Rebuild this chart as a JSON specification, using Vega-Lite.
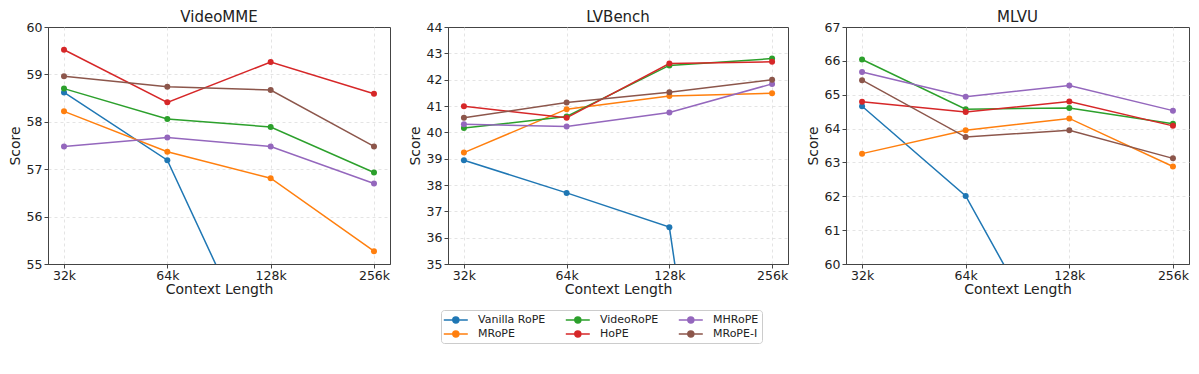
{
  "$schema": "https://vega.github.io/schema/vega-lite/v6.json",
  "background": "white",
  "padding": {"left": 7, "top": 9, "right": 5, "bottom": 5},
  "config": {
    "font": "DejaVu Sans",
    "view": {"stroke": "#444444", "strokeWidth": 1},
    "axis": {
      "labelFont": "DejaVu Sans", "titleFont": "DejaVu Sans",
      "labelFontSize": 12.5, "titleFontSize": 14, "titleFontWeight": "normal",
      "labelColor": "#222222", "titleColor": "#222222",
      "tickColor": "#444444", "tickSize": 4, "domain": true, "domainColor": "#444444",
      "gridColor": "#dddddd", "gridDash": [3, 3], "gridWidth": 0.8
    },
    "legend": {
      "title": null, "orient": "none", "legendX": 393, "legendY": 283,
      "direction": "horizontal", "columns": 3, "columnPadding": 16, "rowPadding": 1,
      "labelFont": "DejaVu Sans", "labelFontSize": 11, "labelColor": "#222222", "labelOffset": 20,
      "symbolType": "M -1.2 0 L 2.8 0 M 1.3 0 A 0.5 0.5 0 1 1 0.3 0 A 0.5 0.5 0 1 1 1.3 0",
      "symbolSize": 144, "symbolStrokeWidth": 1.5,
      "strokeColor": "#cccccc", "fillColor": "white", "cornerRadius": 3, "padding": 3
    },
    "title": {"font": "DejaVu Sans", "fontSize": 15, "fontWeight": "normal", "color": "#222222", "offset": -4},
    "concat": {"spacing": 16}
  },
  "data": {"values": [
    {"bench": "VideoMME", "len": "32k", "method": "Vanilla RoPE", "score": 58.62},
    {"bench": "VideoMME", "len": "64k", "method": "Vanilla RoPE", "score": 57.19},
    {"bench": "VideoMME", "len": "128k", "method": "Vanilla RoPE", "score": 52.5},
    {"bench": "VideoMME", "len": "256k", "method": "Vanilla RoPE", "score": 45.0},
    {"bench": "VideoMME", "len": "32k", "method": "MRoPE", "score": 58.22},
    {"bench": "VideoMME", "len": "64k", "method": "MRoPE", "score": 57.37},
    {"bench": "VideoMME", "len": "128k", "method": "MRoPE", "score": 56.81},
    {"bench": "VideoMME", "len": "256k", "method": "MRoPE", "score": 55.27},
    {"bench": "VideoMME", "len": "32k", "method": "VideoRoPE", "score": 58.70},
    {"bench": "VideoMME", "len": "64k", "method": "VideoRoPE", "score": 58.06},
    {"bench": "VideoMME", "len": "128k", "method": "VideoRoPE", "score": 57.89},
    {"bench": "VideoMME", "len": "256k", "method": "VideoRoPE", "score": 56.93},
    {"bench": "VideoMME", "len": "32k", "method": "HoPE", "score": 59.52},
    {"bench": "VideoMME", "len": "64k", "method": "HoPE", "score": 58.41},
    {"bench": "VideoMME", "len": "128k", "method": "HoPE", "score": 59.26},
    {"bench": "VideoMME", "len": "256k", "method": "HoPE", "score": 58.59},
    {"bench": "VideoMME", "len": "32k", "method": "MHRoPE", "score": 57.48},
    {"bench": "VideoMME", "len": "64k", "method": "MHRoPE", "score": 57.67},
    {"bench": "VideoMME", "len": "128k", "method": "MHRoPE", "score": 57.48},
    {"bench": "VideoMME", "len": "256k", "method": "MHRoPE", "score": 56.70},
    {"bench": "VideoMME", "len": "32k", "method": "MRoPE-I", "score": 58.96},
    {"bench": "VideoMME", "len": "64k", "method": "MRoPE-I", "score": 58.74},
    {"bench": "VideoMME", "len": "128k", "method": "MRoPE-I", "score": 58.67},
    {"bench": "VideoMME", "len": "256k", "method": "MRoPE-I", "score": 57.48},

    {"bench": "LVBench", "len": "32k", "method": "Vanilla RoPE", "score": 38.94},
    {"bench": "LVBench", "len": "64k", "method": "Vanilla RoPE", "score": 37.70},
    {"bench": "LVBench", "len": "128k", "method": "Vanilla RoPE", "score": 36.40},
    {"bench": "LVBench", "len": "256k", "method": "Vanilla RoPE", "score": 10.0},
    {"bench": "LVBench", "len": "32k", "method": "MRoPE", "score": 39.23},
    {"bench": "LVBench", "len": "64k", "method": "MRoPE", "score": 40.88},
    {"bench": "LVBench", "len": "128k", "method": "MRoPE", "score": 41.38},
    {"bench": "LVBench", "len": "256k", "method": "MRoPE", "score": 41.48},
    {"bench": "LVBench", "len": "32k", "method": "VideoRoPE", "score": 40.16},
    {"bench": "LVBench", "len": "64k", "method": "VideoRoPE", "score": 40.60},
    {"bench": "LVBench", "len": "128k", "method": "VideoRoPE", "score": 42.54},
    {"bench": "LVBench", "len": "256k", "method": "VideoRoPE", "score": 42.80},
    {"bench": "LVBench", "len": "32k", "method": "HoPE", "score": 40.99},
    {"bench": "LVBench", "len": "64k", "method": "HoPE", "score": 40.55},
    {"bench": "LVBench", "len": "128k", "method": "HoPE", "score": 42.61},
    {"bench": "LVBench", "len": "256k", "method": "HoPE", "score": 42.68},
    {"bench": "LVBench", "len": "32k", "method": "MHRoPE", "score": 40.31},
    {"bench": "LVBench", "len": "64k", "method": "MHRoPE", "score": 40.22},
    {"bench": "LVBench", "len": "128k", "method": "MHRoPE", "score": 40.75},
    {"bench": "LVBench", "len": "256k", "method": "MHRoPE", "score": 41.84},
    {"bench": "LVBench", "len": "32k", "method": "MRoPE-I", "score": 40.55},
    {"bench": "LVBench", "len": "64k", "method": "MRoPE-I", "score": 41.13},
    {"bench": "LVBench", "len": "128k", "method": "MRoPE-I", "score": 41.52},
    {"bench": "LVBench", "len": "256k", "method": "MRoPE-I", "score": 42.00},

    {"bench": "MLVU", "len": "32k", "method": "Vanilla RoPE", "score": 64.66},
    {"bench": "MLVU", "len": "64k", "method": "Vanilla RoPE", "score": 62.01},
    {"bench": "MLVU", "len": "128k", "method": "Vanilla RoPE", "score": 56.5},
    {"bench": "MLVU", "len": "256k", "method": "Vanilla RoPE", "score": 50.0},
    {"bench": "MLVU", "len": "32k", "method": "MRoPE", "score": 63.26},
    {"bench": "MLVU", "len": "64k", "method": "MRoPE", "score": 63.95},
    {"bench": "MLVU", "len": "128k", "method": "MRoPE", "score": 64.30},
    {"bench": "MLVU", "len": "256k", "method": "MRoPE", "score": 62.88},
    {"bench": "MLVU", "len": "32k", "method": "VideoRoPE", "score": 66.04},
    {"bench": "MLVU", "len": "64k", "method": "VideoRoPE", "score": 64.57},
    {"bench": "MLVU", "len": "128k", "method": "VideoRoPE", "score": 64.61},
    {"bench": "MLVU", "len": "256k", "method": "VideoRoPE", "score": 64.14},
    {"bench": "MLVU", "len": "32k", "method": "HoPE", "score": 64.79},
    {"bench": "MLVU", "len": "64k", "method": "HoPE", "score": 64.49},
    {"bench": "MLVU", "len": "128k", "method": "HoPE", "score": 64.80},
    {"bench": "MLVU", "len": "256k", "method": "HoPE", "score": 64.08},
    {"bench": "MLVU", "len": "32k", "method": "MHRoPE", "score": 65.67},
    {"bench": "MLVU", "len": "64k", "method": "MHRoPE", "score": 64.94},
    {"bench": "MLVU", "len": "128k", "method": "MHRoPE", "score": 65.27},
    {"bench": "MLVU", "len": "256k", "method": "MHRoPE", "score": 64.53},
    {"bench": "MLVU", "len": "32k", "method": "MRoPE-I", "score": 65.43},
    {"bench": "MLVU", "len": "64k", "method": "MRoPE-I", "score": 63.75},
    {"bench": "MLVU", "len": "128k", "method": "MRoPE-I", "score": 63.95},
    {"bench": "MLVU", "len": "256k", "method": "MRoPE-I", "score": 63.12}
  ]},
  "hconcat": [
    {
      "title": "VideoMME",
      "width": 342, "height": 237,
      "transform": [{"filter": "datum.bench === 'VideoMME'"}],
      "encoding": {
        "x": {"field": "len", "type": "ordinal", "sort": ["32k", "64k", "128k", "256k"],
              "scale": {"type": "point", "padding": 0.155},
              "axis": {"title": "Context Length", "labelAngle": 0, "grid": true, "titlePadding": 1, "labelPadding": 1}},
        "color": {"field": "method", "type": "nominal",
                  "scale": {"domain": ["Vanilla RoPE", "VideoRoPE", "MHRoPE", "MRoPE", "HoPE", "MRoPE-I"],
                            "range": ["#1f77b4", "#2ca02c", "#9467bd", "#ff7f0e", "#d62728", "#8c564b"]},
                  "legend": {"encode": {"symbols": {"update": {"fill": {"field": "value", "scale": "color"}, "stroke": {"field": "value", "scale": "color"}}}}}}
      },
      "layer": [
        {"mark": {"type": "line", "strokeWidth": 1.5, "clip": true},
         "encoding": {"y": {"field": "score", "type": "quantitative", "scale": {"domain": [55, 60], "nice": false, "zero": false},
              "axis": {"title": "Score", "values": [55, 56, 57, 58, 59, 60], "grid": false, "titlePadding": 4}}}},
        {"mark": {"type": "circle", "size": 36, "opacity": 1, "clip": true},
         "encoding": {"y": {"field": "score", "type": "quantitative",
              "axis": {"orient": "left", "title": null, "values": [56, 57, 58, 59], "grid": true, "labels": false, "ticks": false, "domain": false}}}}
      ],
      "resolve": {"axis": {"y": "independent"}}
    },
    {
      "title": "LVBench",
      "width": 340, "height": 237,
      "transform": [{"filter": "datum.bench === 'LVBench'"}],
      "encoding": {
        "x": {"field": "len", "type": "ordinal", "sort": ["32k", "64k", "128k", "256k"],
              "scale": {"type": "point", "padding": 0.155},
              "axis": {"title": "Context Length", "labelAngle": 0, "grid": true, "titlePadding": 1, "labelPadding": 1}},
        "color": {"field": "method", "type": "nominal",
                  "scale": {"domain": ["Vanilla RoPE", "VideoRoPE", "MHRoPE", "MRoPE", "HoPE", "MRoPE-I"],
                            "range": ["#1f77b4", "#2ca02c", "#9467bd", "#ff7f0e", "#d62728", "#8c564b"]},
                  "legend": {"encode": {"symbols": {"update": {"fill": {"field": "value", "scale": "color"}, "stroke": {"field": "value", "scale": "color"}}}}}}
      },
      "layer": [
        {"mark": {"type": "line", "strokeWidth": 1.5, "clip": true},
         "encoding": {"y": {"field": "score", "type": "quantitative", "scale": {"domain": [35, 44], "nice": false, "zero": false},
              "axis": {"title": "Score", "values": [35, 36, 37, 38, 39, 40, 41, 42, 43, 44], "grid": false, "titlePadding": 4}}}},
        {"mark": {"type": "circle", "size": 36, "opacity": 1, "clip": true},
         "encoding": {"y": {"field": "score", "type": "quantitative",
              "axis": {"orient": "left", "title": null, "values": [36, 37, 38, 39, 40, 41, 42, 43], "grid": true, "labels": false, "ticks": false, "domain": false}}}}
      ],
      "resolve": {"axis": {"y": "independent"}}
    },
    {
      "title": "MLVU",
      "width": 343, "height": 237,
      "transform": [{"filter": "datum.bench === 'MLVU'"}],
      "encoding": {
        "x": {"field": "len", "type": "ordinal", "sort": ["32k", "64k", "128k", "256k"],
              "scale": {"type": "point", "padding": 0.155},
              "axis": {"title": "Context Length", "labelAngle": 0, "grid": true, "titlePadding": 1, "labelPadding": 1}},
        "color": {"field": "method", "type": "nominal",
                  "scale": {"domain": ["Vanilla RoPE", "VideoRoPE", "MHRoPE", "MRoPE", "HoPE", "MRoPE-I"],
                            "range": ["#1f77b4", "#2ca02c", "#9467bd", "#ff7f0e", "#d62728", "#8c564b"]},
                  "legend": {"encode": {"symbols": {"update": {"fill": {"field": "value", "scale": "color"}, "stroke": {"field": "value", "scale": "color"}}}}}}
      },
      "layer": [
        {"mark": {"type": "line", "strokeWidth": 1.5, "clip": true},
         "encoding": {"y": {"field": "score", "type": "quantitative", "scale": {"domain": [60, 67], "nice": false, "zero": false},
              "axis": {"title": "Score", "values": [60, 61, 62, 63, 64, 65, 66, 67], "grid": false, "titlePadding": 4}}}},
        {"mark": {"type": "circle", "size": 36, "opacity": 1, "clip": true},
         "encoding": {"y": {"field": "score", "type": "quantitative",
              "axis": {"orient": "left", "title": null, "values": [61, 62, 63, 64, 65, 66], "grid": true, "labels": false, "ticks": false, "domain": false}}}}
      ],
      "resolve": {"axis": {"y": "independent"}}
    }
  ],
  "resolve": {"scale": {"y": "independent", "x": "independent"}, "legend": {"color": "shared"}}
}
